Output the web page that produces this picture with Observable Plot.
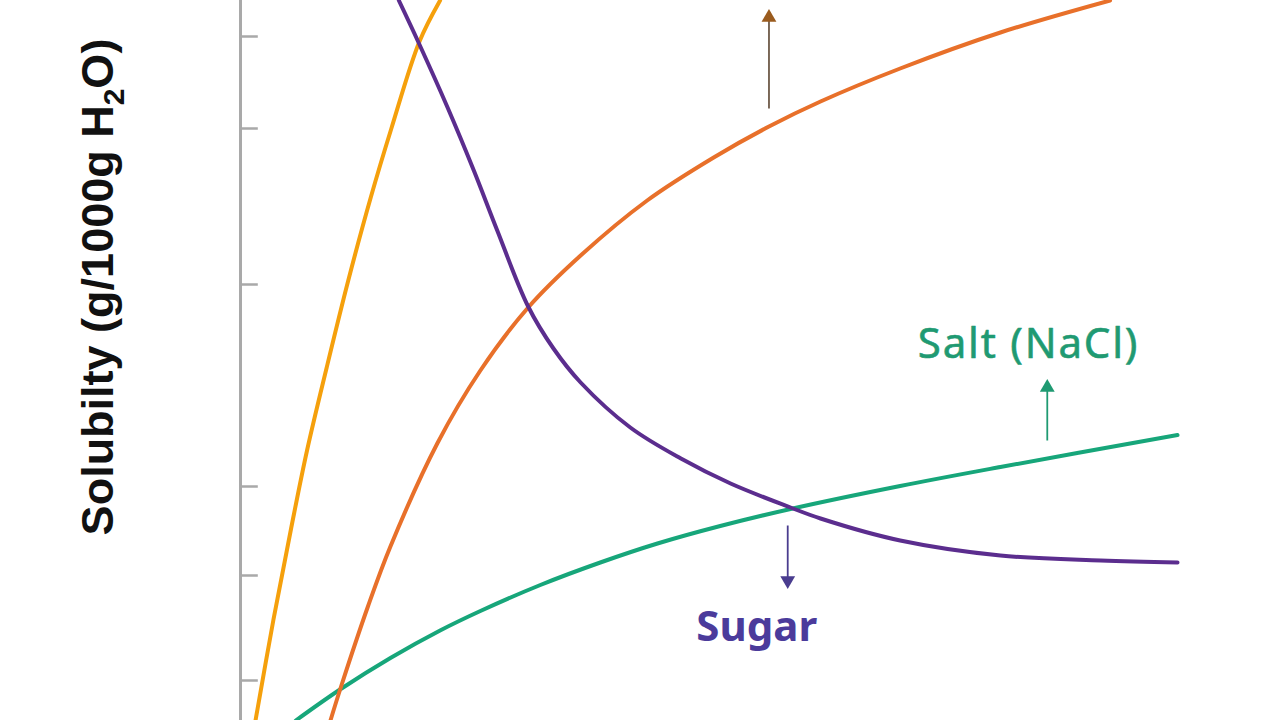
<!DOCTYPE html>
<html>
<head>
<meta charset="utf-8">
<script src="https://cdn.jsdelivr.net/npm/d3@7"></script>
<script src="https://cdn.jsdelivr.net/npm/@observablehq/plot@0.6"></script>
<style>
  html, body { margin: 0; padding: 0; background: #fff; overflow: hidden; }
  #chart svg { display: block; overflow: hidden; }
</style>
</head>
<body>
<div id="chart"></div>
<script>
// Temperature (°C) and solubility (g/1000g H2O)
const yellowT = [1.6, 3.5, 5.4, 7.1, 9.2, 11.5, 13.9, 16.1, 19.1, 21.3];
const yellowS = [0, 200, 384, 540, 706, 880, 1046, 1184, 1358, 1440];

const redT = [9.6, 10.7, 13.6, 16.0, 21.0, 25.6, 30.7, 36.3, 43.4, 50.5, 56.4, 61.9, 70.4, 81.1, 92.8];
const redS = [0, 66, 228, 348, 554, 700, 826, 930, 1040, 1126, 1188, 1238, 1304, 1376, 1440];

const saltT = [5.9, 10.7, 16.0, 21.3, 25.6, 32.0, 38.4, 44.5, 51.2, 58.7, 70.4, 81.1, 100];
const saltS = [0, 63, 125, 180, 219, 271, 316, 354, 389, 423, 469, 507, 571];

const sugarT = [16.9, 19.0, 22.1, 24.9, 27.4, 30.7, 33.4, 36.3, 41.6, 47.0, 52.3, 58.7, 61.9, 70.4, 81.1, 91.8, 100];
const sugarS = [1440, 1356, 1226, 1100, 980, 828, 744, 676, 586, 524, 474, 426, 404, 360, 330, 320, 316];

const tickValues = [80, 290, 468, 872, 1184, 1368];

// annotation arrows
const arrowT = [56.4, 86.1, 58.4];
const arrowFrom = [1224, 560, 390];
const arrowTo = [1416, 676, 270];
const arrowLine = ["#6e5a48", "#1f9a72", "#4a3d8f"];
const arrowHead = ["#9a5b1e", "#1f9a72", "#4a3d8f"];

const labelText = ["Salt (NaCl)", "Sugar"];
const labelT = [84.1, 55.1];
const labelS = [752, 186];
const labelColor = ["#1f9a72", "#4b3b9b"];

const series = (T, S) => T.map((t, i) => ({t, s: S[i]}));
const yellow = series(yellowT, yellowS);
const red = series(redT, redS);
const salt = series(saltT, saltS);
const sugar = series(sugarT, sugarS);
const arrows = arrowT.map((t, i) => ({t, from: arrowFrom[i], to: arrowTo[i], line: arrowLine[i], head: arrowHead[i], up: arrowTo[i] > arrowFrom[i]}));
const labels = labelText.map((text, i) => ({text, t: labelT[i], s: labelS[i], color: labelColor[i]}));

const lineOpts = {x: "t", y: "s", strokeWidth: 4, curve: "catmull-rom"};

const plot = Plot.plot({
  width: 1280,
  height: 720,
  marginLeft: 240,
  marginRight: 0,
  marginTop: 0,
  marginBottom: 0,
  x: {domain: [0, 110.99], axis: null},
  y: {domain: [0, 1440], axis: null},
  marks: [
    Plot.ruleX([0], {stroke: "#a9a9a9", strokeWidth: 3}),
    Plot.ruleY(tickValues, {x1: 0, x2: 1.9, stroke: "#a9a9a9", strokeWidth: 2.5}),
    Plot.line(salt, {...lineOpts, stroke: "#17a67a"}),
    Plot.line(red, {...lineOpts, stroke: "#e8702a"}),
    Plot.line(yellow, {...lineOpts, stroke: "#f5a00c"}),
    Plot.line(sugar, {...lineOpts, stroke: "#5b2d8e"}),
    Plot.link(arrows, {x1: "t", x2: "t", y1: "from", y2: "to", stroke: "line", strokeWidth: 1.8}),
    Plot.dot(arrows, {x: "t", y: "to", symbol: "triangle", r: 5.5, fill: "head", stroke: "none", rotate: (d) => d.up ? 0 : 180}),
    Plot.text(labels.slice(0, 1), {x: "t", y: "s", text: "text", fill: "color", fontSize: 42, fontWeight: "normal", fontFamily: "Noto Sans", textAnchor: "middle", stroke: "color", strokeWidth: 0.6}),
    Plot.text(labels.slice(1), {x: "t", y: "s", text: "text", fill: "color", fontSize: 42, fontWeight: "bold", fontFamily: "Noto Sans", textAnchor: "middle"})
  ]
});

// shift arrow heads so their tips sit at the arrow ends
d3.select(plot).selectAll("g[aria-label=dot] path").each(function(d, i) {
  const up = arrows[i].up;
  const tr = d3.select(this).attr("transform");
  d3.select(this).attr("transform", tr.replace(/translate\(([^,]+),([^)]+)\)/, (m, a, b) => `translate(${a},${+b + (up ? 5 : -5)})`));
});

// letter spacing for the salt label
d3.select(plot).selectAll("g[aria-label=text]").filter((d, i) => i === 0).selectAll("text").attr("letter-spacing", 1.8);

const yl = d3.select(plot).append("text")
  .attr("transform", "translate(113,287) rotate(-90)")
  .attr("text-anchor", "middle")
  .attr("font-family", "Liberation Sans, Arial, sans-serif")
  .attr("font-weight", "bold")
  .attr("font-size", 45)
  .attr("fill", "#111");
yl.append("tspan").text("Solubilty (g/1000g H");
yl.append("tspan").attr("font-size", 30).attr("dy", 11).text("2");
yl.append("tspan").attr("dy", -11).text("O)");

document.getElementById("chart").appendChild(plot);
</script>
</body>
</html>
